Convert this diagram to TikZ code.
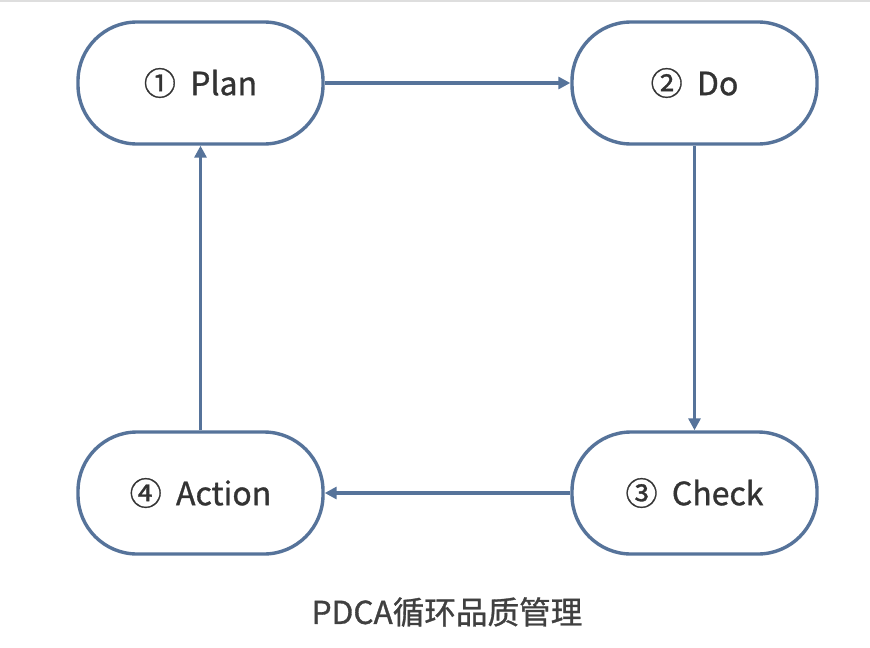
\documentclass[tikz,border=0pt]{standalone}
\usepackage{fontspec}
\setmainfont{Noto Sans CJK SC}
\newfontfamily\medfont{Noto Sans CJK SC}[FakeBold=1]
\usetikzlibrary{arrows.meta}
\definecolor{pdcablue}{HTML}{56739A}
\definecolor{pdcatext}{HTML}{333333}

\begin{document}
\begin{tikzpicture}[
  font=\medfont\fontsize{16}{19}\selectfont,
  stage/.style={draw=pdcablue, line width=1.7pt, fill=white, text=pdcatext,
                rounded corners=29.5pt, minimum width=122.5pt, minimum height=61pt,
                inner sep=0pt},
  arr/.style={-{Triangle[length=6pt,width=6pt]}, pdcablue, line width=1.6pt}
]
\useasboundingbox (0pt,0pt) rectangle (435pt,-323.5pt);
\draw[black!13, line width=1pt] (0pt,-0.5pt) -- (435pt,-0.5pt);

\node[stage] (plan)   at (100.25pt,-41.5pt)  {①\ \ Plan};
\node[stage] (do)     at (347.25pt,-41.5pt)  {②\ \ Do};
\node[stage] (check)  at (347.25pt,-246.5pt) {③\ \ Check};
\node[stage] (action) at (100.25pt,-246.5pt) {④\ \ Action};

\node[text=black!75, font=\medfont\fontsize{15.8}{19}\selectfont] (cap) at (223.5pt,-306pt)
  {PDCA循环品质管理};

\draw[arr] (plan)   -- (do);
\draw[arr] (do)     -- (check);
\draw[arr] (check)  -- (action);
\draw[arr] (action) -- (plan);
\end{tikzpicture}
\end{document}
